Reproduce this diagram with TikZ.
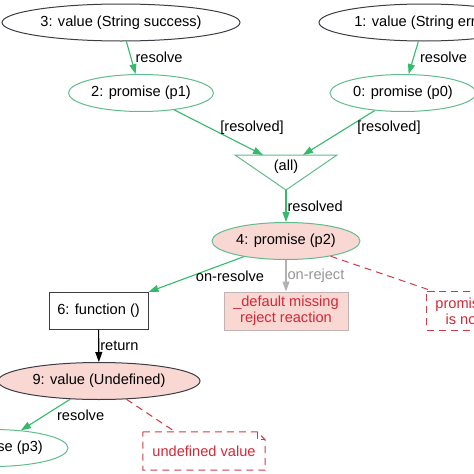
\documentclass[tikz,border=0pt]{standalone}
\usepackage{fontspec}
\setmainfont{Liberation Sans}
\usetikzlibrary{positioning,arrows.meta,calc,shapes.geometric}
\definecolor{gvgreen}{RGB}{52,186,106}
\definecolor{nodegreen}{RGB}{96,188,140}
\definecolor{softpink}{RGB}{249,216,212}
\definecolor{gvgray}{RGB}{60,60,68}
\definecolor{notered}{RGB}{214,38,52}
\definecolor{dashred}{RGB}{205,60,70}
\definecolor{rejgray}{RGB}{178,178,178}
\definecolor{labelgray}{RGB}{150,150,150}
\definecolor{boxgray}{RGB}{195,178,178}
\newcommand\gvfont{\fontsize{14.6}{16}\selectfont}

\begin{document}
\begin{tikzpicture}[x=1pt,y=-1pt,font=\gvfont,
val/.style={ellipse,draw=gvgray,line width=1pt,inner sep=0,minimum height=37pt},
prom/.style={ellipse,draw=nodegreen,line width=1pt,inner sep=0,minimum height=37pt},
box/.style={rectangle,draw=gvgray,line width=1pt,inner sep=0,minimum height=37pt,align=center},
note/.style={rectangle,inner sep=0,minimum height=38pt,align=center,text=notered},
arr/.style={-{Triangle[length=10pt,width=7pt]},line width=1.1pt,draw=gvgreen},
lbl/.style={right,inner sep=1pt},
dashl/.style={draw=dashred,line width=1pt,dash pattern=on 7pt off 5pt}]
\useasboundingbox (0,0) rectangle (474,474);
\clip (0,0) rectangle (474,474);
% values and promises
\node[val,minimum width=238] (v3) at (121,22.5) {3: value (String success)};
\node[val,minimum width=210] (v1) at (424,22.5) {1: value (String error)};
\node[prom,minimum width=145] (p1) at (141,93) {2: promise (p1)};
\node[prom,minimum width=146] (p0) at (403,93) {0: promise (p0)};
% combinator
\node[inner sep=0] (all) at (286,167) {(all)};
\coordinate (allL) at ($(all)+(-23,-12)$);
\coordinate (allR) at ($(all)+(17,-12)$);
\coordinate (allB) at ($(all)+(0,23)$);
\draw[draw=nodegreen,line width=1pt] ($(all)+(-51,-12)$) -- ($(all)+(51,-12)$) -- (allB) -- cycle;
\node[prom,fill=softpink,minimum width=148] (p2) at (286,241) {4: promise (p2)};
\node[box,minimum width=99] (fn) at (98.5,310.5) {6: function ()};
\node[box,draw=boxgray,fill=softpink,text=notered,minimum width=124,minimum height=38] (dflt) at (286,311) {\_default missing\\reject reaction};
\node[note,minimum width=128] (nh) at (491,311) {promise rejection\\is not handled};
\node[val,fill=softpink,minimum width=202] (v9) at (99,381) {9: value (Undefined)};
\node[prom,minimum width=150] (p3) at (-7,448) {5: promise (p3)};
\node[note,minimum width=122] (ud) at (204,451) {undefined value};
% edges
\draw[arr] (v3) -- node[lbl,xshift=3pt]{resolve} (p1);
\draw[arr] (v1) -- node[lbl,xshift=5pt]{resolve} (p0);
\draw[arr] (p1) -- node[lbl,pos=.39,xshift=10pt]{[resolved]} (allL);
\draw[arr] (p0) -- node[lbl,pos=.39,xshift=9pt]{[resolved]} (allR);
\draw[arr] (allB) -- node[lbl]{resolved} (p2);
\draw[arr] (p2) -- node[lbl,pos=.55,xshift=3pt]{on-resolve} (fn);
\draw[arr,draw=rejgray] (p2) -- node[lbl,text=labelgray]{on-reject} (dflt);
\draw[arr,draw=black] (fn) -- node[lbl]{return} (v9);
\draw[arr] (v9) -- node[lbl,xshift=10pt]{resolve} (p3);
% notes
\draw[dashl] (p2) -- (nh);
\draw[dashl] (v9) -- (ud);
\draw[dashl] (nh.north west) -- (nh.north east) -- (nh.south east) -- (nh.south west) -- cycle;
\draw[dashl] (ud.north west) -- ($(ud.north east)+(-8,0)$) -- ($(ud.north east)+(0,8)$) -- (ud.south east) -- (ud.south west) -- cycle;
\draw[dashl] ($(ud.north east)+(-8,0)$) -- ($(ud.north east)+(-8,8)$) -- ($(ud.north east)+(0,8)$);
\end{tikzpicture}
\end{document}
